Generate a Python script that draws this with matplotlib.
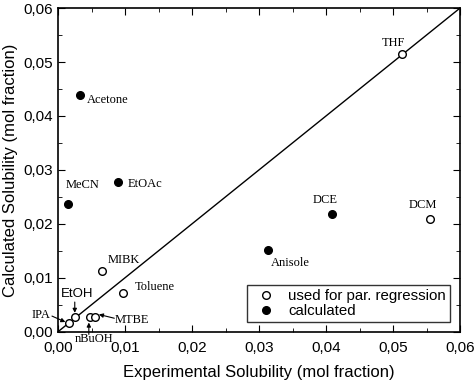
import matplotlib.pyplot as plt
from matplotlib.ticker import MultipleLocator, FuncFormatter

# open circles: used for parameter regression
reg_names = ['THF', 'DCM', 'MIBK', 'Toluene', 'EtOH', 'IPA', 'nBuOH', 'MTBE']
reg_exp = [0.0514, 0.0555, 0.0065, 0.0097, 0.0025, 0.0016, 0.0047, 0.0055]
reg_calc = [0.0515, 0.0209, 0.0113, 0.0071, 0.0027, 0.0017, 0.0028, 0.0028]

# filled circles: calculated
calc_names = ['Acetone', 'EtOAc', 'MeCN', 'DCE', 'Anisole']
calc_exp = [0.0033, 0.0090, 0.0015, 0.0409, 0.0313]
calc_calc = [0.0439, 0.0278, 0.0237, 0.0218, 0.0152]

plt.rcParams['font.family'] = ['Liberation Sans', 'DejaVu Sans']

fig = plt.figure(figsize=(4.74, 3.85), dpi=100)
ax = fig.add_axes([0.1224, 0.1384, 0.8481, 0.8406])

ax.plot([0, 0.06], [0, 0.06], color='black', lw=1)
ax.plot(reg_exp, reg_calc, 'o', mfc='white', mec='black', ms=5.5, mew=1,
        label='used for par. regression')
ax.plot(calc_exp, calc_calc, 'o', mfc='black', mec='black', ms=5.5,
        label='calculated')

lab = dict(family='Liberation Serif', fontsize=9, va='center')
ax.text(0.0501, 0.0535, 'THF', ha='center', **lab)
ax.text(0.0545, 0.0235, 'DCM', ha='center', **lab)
ax.text(0.0043, 0.0430, 'Acetone', **lab)
ax.text(0.0104, 0.0274, 'EtOAc', **lab)
ax.text(0.0012, 0.0272, 'MeCN', **lab)
ax.text(0.0398, 0.0244, 'DCE', ha='center', **lab)
ax.text(0.0346, 0.0127, 'Anisole', ha='center', **lab)
ax.text(0.0074, 0.0133, 'MIBK', **lab)
ax.text(0.0114, 0.0083, 'Toluene', **lab)
ax.text(0.0029, 0.0070, 'EtOH', ha='center', va='center', fontsize=9.5)
ax.text(-0.0012, 0.0031, 'IPA', ha='right', **lab)
ax.text(0.0054, -0.0013, 'nBuOH', ha='center', **lab)
ax.text(0.0085, 0.0022, 'MTBE', **lab)

arr = dict(arrowstyle='-|>', lw=0.8, color='black', mutation_scale=6,
           shrinkA=0, shrinkB=0)
ax.annotate('', xy=(0.0025, 0.0035), xytext=(0.0025, 0.0055), arrowprops=arr)
ax.annotate('', xy=(0.0011, 0.0018), xytext=(-0.0009, 0.0029), arrowprops=arr)
ax.annotate('', xy=(0.0046, 0.0017), xytext=(0.0046, -0.0005), arrowprops=arr)
ax.annotate('', xy=(0.0061, 0.0032), xytext=(0.0084, 0.0025), arrowprops=arr)

ax.set_xlim(0, 0.06)
ax.set_ylim(0, 0.06)
ax.xaxis.set_major_locator(MultipleLocator(0.01))
ax.yaxis.set_major_locator(MultipleLocator(0.01))
ax.xaxis.set_minor_locator(MultipleLocator(0.005))
ax.yaxis.set_minor_locator(MultipleLocator(0.005))
fmt = FuncFormatter(lambda v, p: f'{v:.2f}'.replace('.', ','))
ax.xaxis.set_major_formatter(fmt)
ax.yaxis.set_major_formatter(fmt)
ax.tick_params(which='both', direction='in', top=True, right=True, labelsize=11)
ax.tick_params(axis='x', which='major', pad=7)
ax.tick_params(which='major', length=5)
ax.tick_params(which='minor', length=3)
for s in ax.spines.values():
    s.set_linewidth(1.2)

ax.set_xlabel('Experimental Solubility (mol fraction)', fontsize=12, labelpad=7)
ax.set_ylabel('Calculated Solubility (mol fraction)', fontsize=12)

leg = ax.legend(loc='lower right', fontsize=10.8, frameon=True, fancybox=False,
                edgecolor='black', handletextpad=0.5, borderpad=0.25,
                labelspacing=0.1, borderaxespad=0,
                bbox_to_anchor=(0.975, 0.03))
leg.get_frame().set_linewidth(1)

fig.savefig('out.png', dpi=100)
